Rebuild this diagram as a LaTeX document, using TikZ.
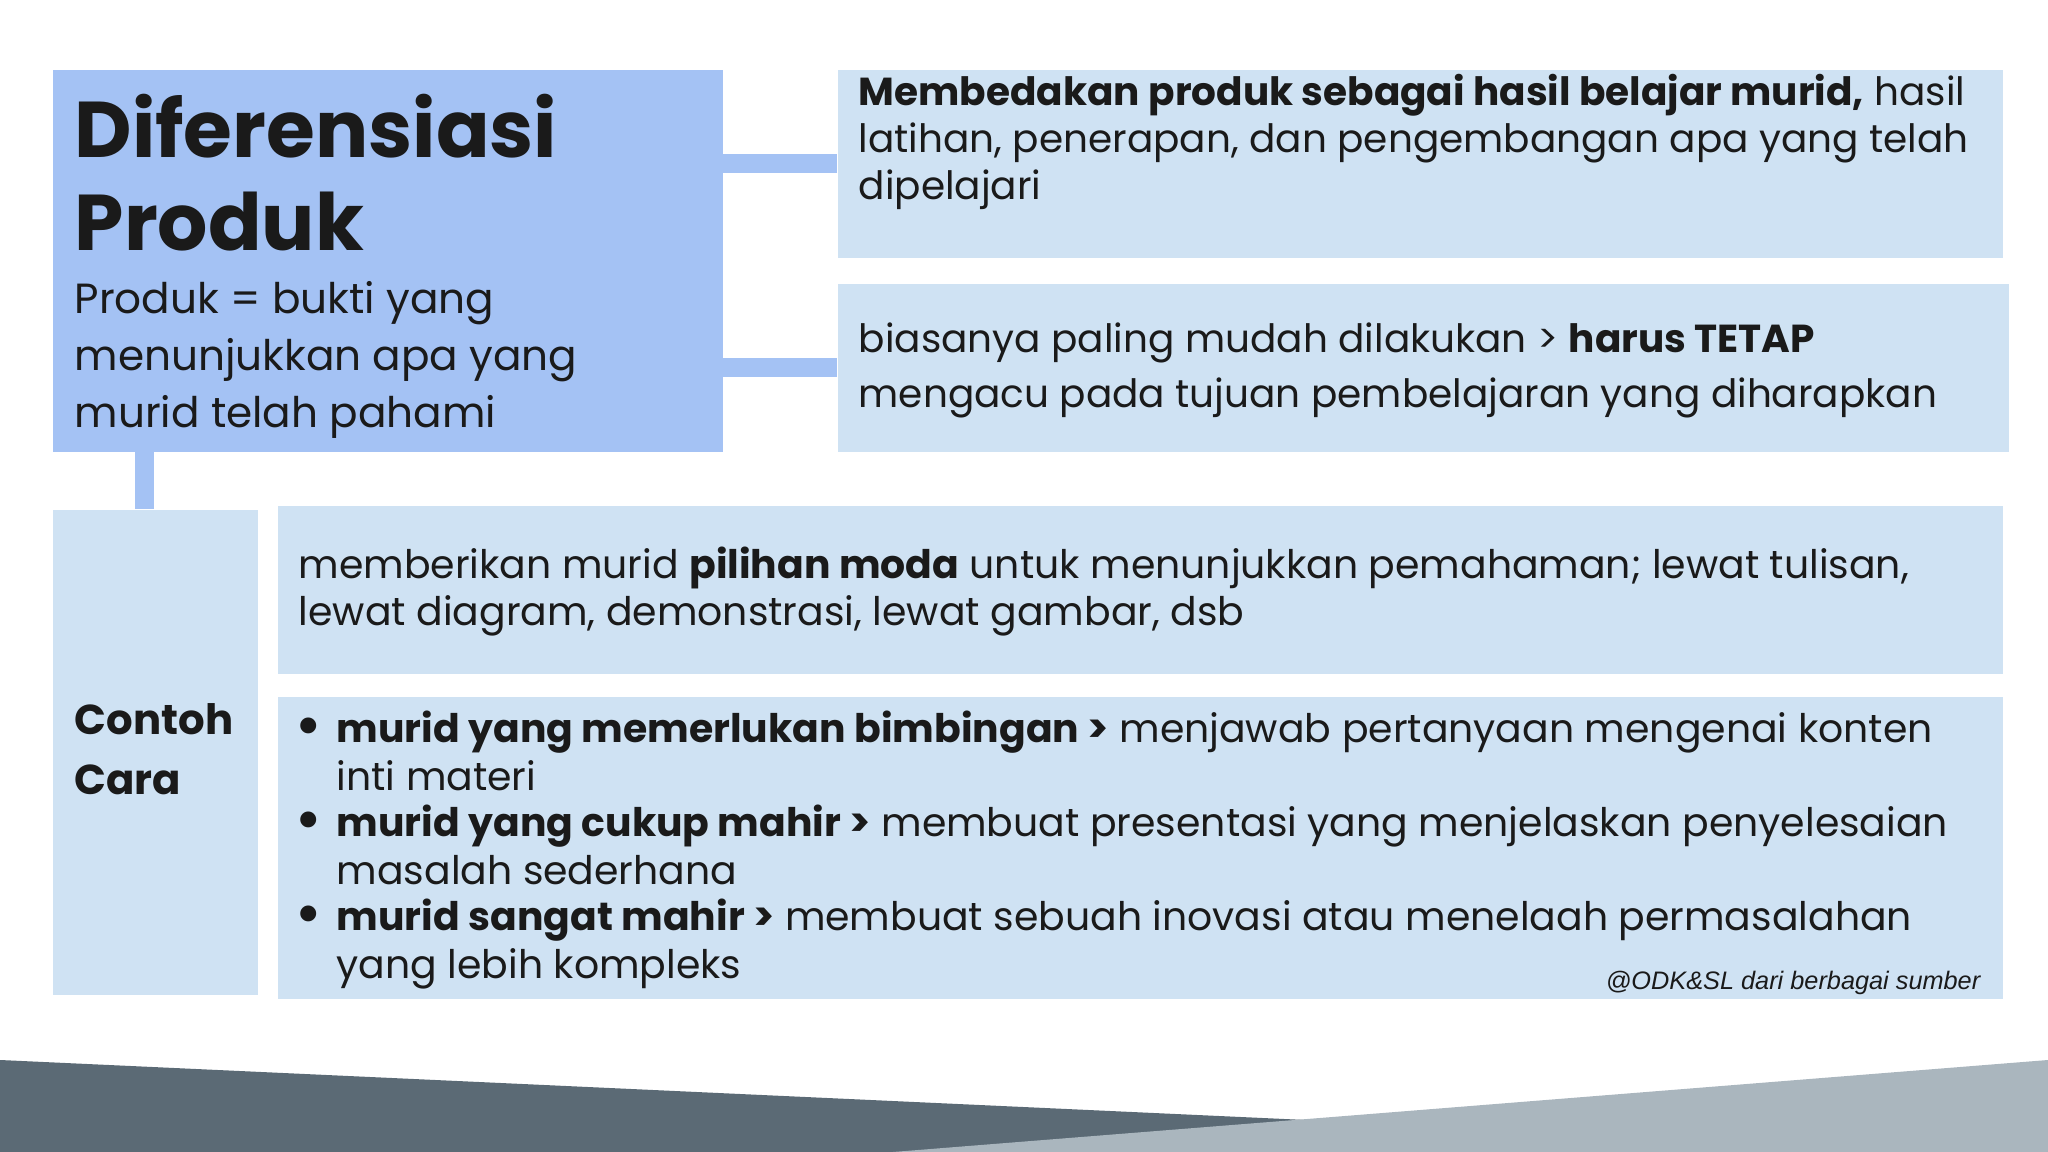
\documentclass[tikz,border=0pt]{standalone}
\usepackage{fontspec}
\setmainfont{Poppins}
\newfontfamily\srcfont{Liberation Sans}
\usepackage{tikz}
\definecolor{mainblue}{HTML}{A4C2F4}
\definecolor{paleblue}{HTML}{CFE2F3}
\definecolor{ink}{HTML}{1A1A1A}
\definecolor{slate}{HTML}{5B6A75}
\definecolor{mist}{HTML}{AAB6BE}

\begin{document}
\begin{tikzpicture}
  \tikzset{mainbox/.style = {shape=rectangle,fill=mainblue,anchor=north west,inner sep=0pt}}
  \tikzset{cardbox/.style = {shape=rectangle,fill=paleblue,anchor=north west,inner sep=0pt}}
  \tikzset{bar/.style = {draw=mainblue,line width=0.19cm}}
  \tikzset{txt/.style = {anchor=base west,align=left,inner sep=0pt,text=ink}}
  \tikzset{bodyfont/.style = {font=\fontsize{11.1pt}{13.4pt}\selectfont}}
  \tikzset{listfont/.style = {font=\fontsize{11.2pt}{13.4pt}\selectfont}}

  \useasboundingbox (0,0) rectangle (20.48,-11.52);

  % bottom band
  \fill[slate] (0,-10.60) -- (13.06,-11.20) -- (13.06,-11.52) -- (0,-11.52) -- cycle;
  \fill[mist] (8.93,-11.52) -- (20.48,-10.60) -- (20.48,-11.52) -- cycle;

	\node[mainbox,minimum width=6.70cm,minimum height=3.82cm] (main) at (0.52,-0.69) {};
	\node[cardbox,minimum width=11.65cm,minimum height=1.88cm] (box1) at (8.37,-0.69) {};
	\node[cardbox,minimum width=11.71cm,minimum height=1.68cm] (box2) at (8.37,-2.83) {};
	\node[cardbox,minimum width=2.05cm,minimum height=4.85cm] (cara) at (0.52,-5.09) {};
	\node[cardbox,minimum width=17.25cm,minimum height=1.68cm] (box3) at (2.77,-5.05) {};
	\node[cardbox,minimum width=17.25cm,minimum height=3.02cm] (box4) at (2.77,-6.96) {};

       \foreach \to in {box1, box2}
    \draw[bar] (\to.west) -- (\to.west -| main.east);
  \draw[bar] ([xshift=-1.05mm]cara.north) -- ([xshift=-1.05mm]cara.north |- main.south);

  % anchors sit on the last line of each text
  \node[txt,font=\fontsize{22.5pt}{26.7pt}\selectfont\bfseries] (title) at (0.74,-2.51) {Diferensiasi\\Produk};
  \node[txt,font=\fontsize{12pt}{16.3pt}\selectfont] (def) at (0.74,-4.28) {Produk = bukti yang\\menunjukkan apa yang\\murid telah pahami};
  \node[txt,bodyfont] (t1) at (8.58,-2.00) {\textbf{Membedakan produk sebagai hasil belajar murid,} hasil\\latihan, penerapan, dan pengembangan apa yang telah\\dipelajari};
  \node[txt,font=\fontsize{11.1pt}{15.4pt}\selectfont] (t2) at (8.58,-4.07) {biasanya paling mudah dilakukan > \textbf{harus TETAP}\\mengacu pada tujuan pembelajaran yang diharapkan};
  \node[txt,font=\fontsize{11.9pt}{17pt}\selectfont\bfseries] (contoh) at (0.74,-7.94) {Contoh\\Cara};
  \node[txt,listfont] (t3) at (2.98,-6.26) {memberikan murid \textbf{pilihan moda} untuk menunjukkan pemahaman; lewat tulisan,\\lewat diagram, demonstrasi, lewat gambar, dsb};

  \foreach \y/\item in {7.43/{\textbf{murid yang memerlukan bimbingan >} menjawab pertanyaan mengenai konten\\inti materi},
                        8.37/{\textbf{murid yang cukup mahir >} membuat presentasi yang menjelaskan penyelesaian\\masalah sederhana},
                        9.31/{\textbf{murid sangat mahir >} membuat sebuah inovasi atau menelaah permasalahan\\yang lebih kompleks}}
  {
    \node[txt,font=\fontsize{15pt}{15pt}\selectfont\bfseries] at (2.95,-\y-0.01) {•};
    \node[txt,listfont] at (3.36,-\y-0.47) {\item};
  }

  \node[anchor=base east,inner sep=0pt,text=ink,font=\srcfont\itshape\fontsize{7.2pt}{8.6pt}\selectfont] (src) at (19.81,-9.89) {@ODK\&SL dari berbagai sumber};
\end{tikzpicture}
\end{document}
